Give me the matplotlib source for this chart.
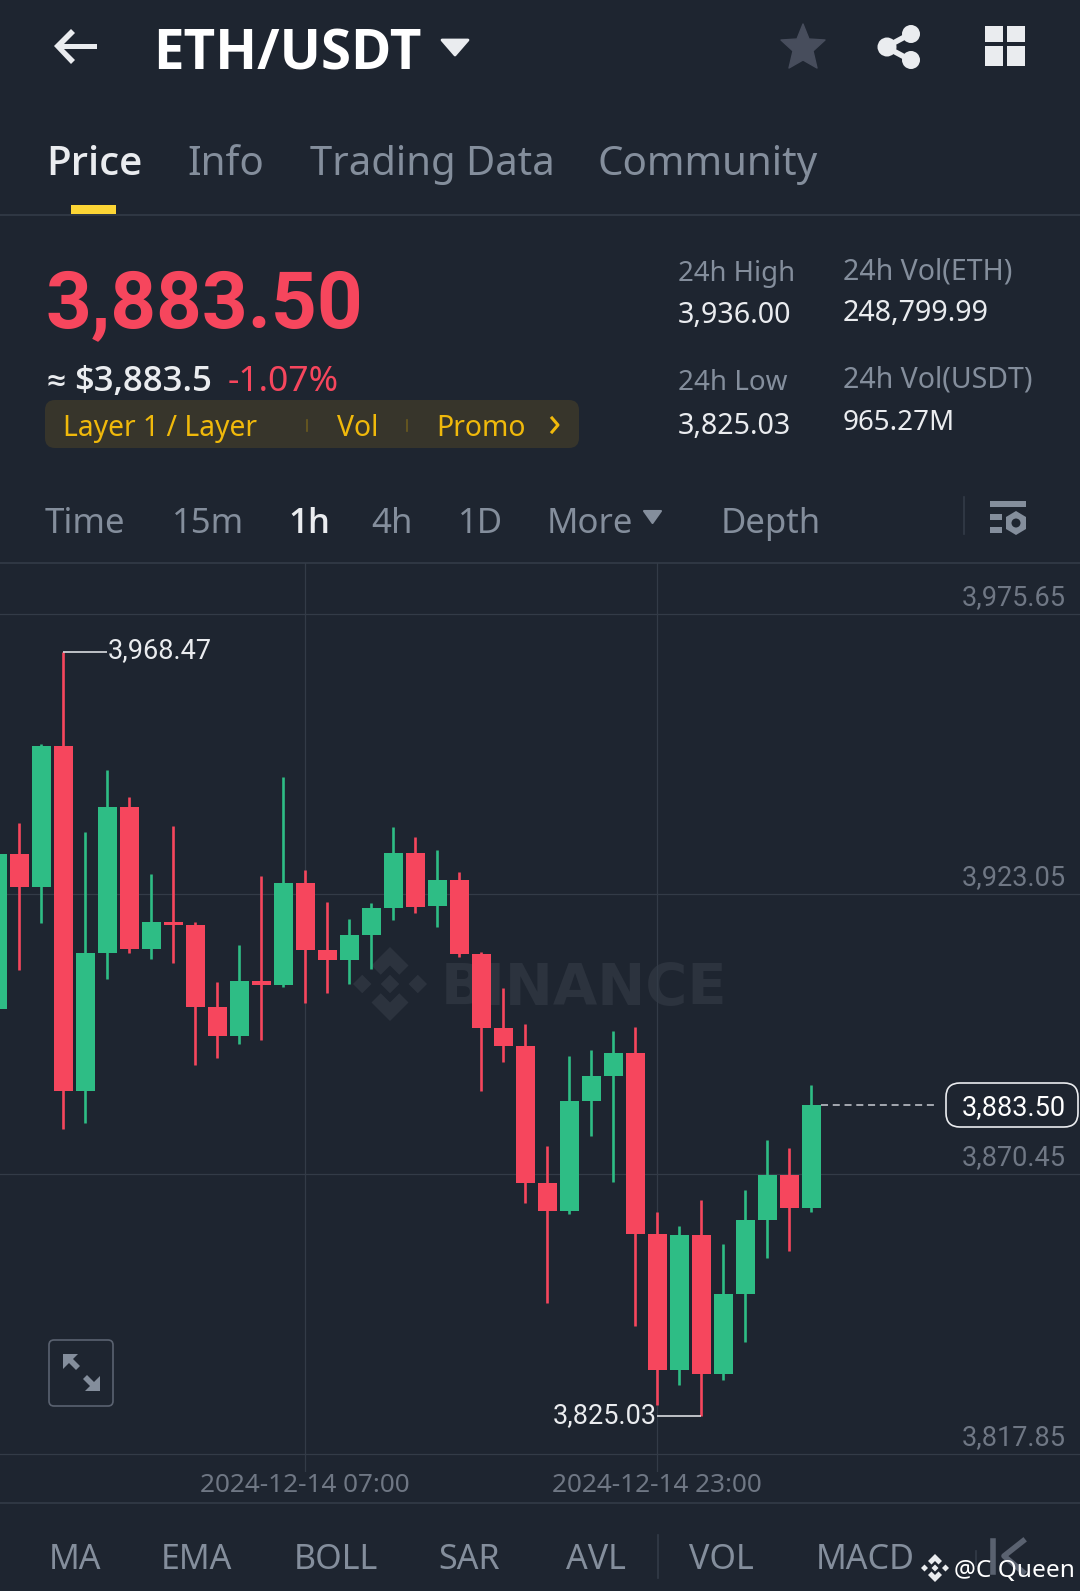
import matplotlib
matplotlib.use("Agg")
import matplotlib.pyplot as plt
import matplotlib.transforms as mtrans
from matplotlib.patches import FancyBboxPatch, Polygon, Circle, Rectangle

# candle values, one per hour
opens = [3901.45, 3930.56, 3924.42, 3950.91, 3886.10, 3911.91, 3939.45, 3912.72, 3917.85, 3917.28,
         3901.88, 3896.37, 3906.71, 3905.90, 3925.06, 3912.53, 3910.71, 3915.40, 3920.42, 3930.81,
         3920.76, 3925.66, 3911.70, 3897.84, 3894.46, 3868.83, 3863.50, 3884.07, 3888.90, 3893.12,
         3859.18, 3833.55, 3858.95, 3832.88, 3847.96, 3861.77, 3870.17, 3864.15]
closes = [3930.56, 3924.42, 3950.91, 3886.10, 3911.91, 3939.45, 3912.72, 3917.85, 3917.28, 3901.88,
          3896.37, 3906.71, 3905.90, 3925.06, 3912.53, 3910.71, 3915.40, 3920.42, 3930.81, 3920.66,
          3925.66, 3911.70, 3897.84, 3894.46, 3868.83, 3863.50, 3884.07, 3888.90, 3893.12, 3859.18,
          3833.55, 3858.95, 3832.88, 3847.96, 3861.77, 3870.17, 3864.15, 3883.50]
highs = [3930.56, 3936.33, 3951.23, 3968.47, 3934.70, 3946.34, 3941.33, 3926.81, 3935.88, 3917.85,
         3906.52, 3913.41, 3926.43, 3944.97, 3927.56, 3921.60, 3918.35, 3921.42, 3935.58, 3933.81,
         3931.32, 3927.15, 3912.21, 3905.45, 3898.63, 3875.67, 3892.67, 3893.80, 3897.35, 3898.10,
         3863.40, 3860.68, 3865.64, 3857.24, 3867.44, 3876.78, 3875.30, 3887.11]
lows = [3901.45, 3908.77, 3917.66, 3878.90, 3879.97, 3907.03, 3911.91, 3910.84, 3910.03, 3890.93,
        3892.24, 3894.87, 3895.62, 3905.52, 3902.52, 3904.40, 3906.14, 3908.90, 3918.17, 3919.42,
        3916.89, 3911.18, 3886.13, 3891.49, 3864.91, 3846.25, 3862.97, 3877.68, 3868.98, 3841.95,
        3827.01, 3830.87, 3825.03, 3831.84, 3838.89, 3854.72, 3855.91, 3863.40]

price_ticks = [3975.65, 3923.05, 3870.45, 3817.85]
price_labels = ["3,975.65", "3,923.05", "3,870.45", "3,817.85"]
time_ticks = [14, 30]
time_labels = ["2024-12-14 07:00", "2024-12-14 23:00"]

last_price = 3883.50
high_idx, high_price = 3, 3968.47
low_idx, low_price = 32, 3825.03

BG = "#1E2530"
LINE = "#333B47"
GREY = "#848E9C"
WHITE = "#EAECEF"
RED = "#F6465D"
GREEN = "#2EBD85"
YELLOW = "#F0B90B"
MARK = "#2C333E"
UI_FONT = ["Noto Sans", "DejaVu Sans"]
BOLD_FONT = ["Open Sans", "DejaVu Sans"]
NUM_FONT = ["Roboto", "DejaVu Sans"]

W, H = 1080, 1591
PX_PER_PRICE = 5.323

fig = plt.figure(figsize=(W / 100, H / 100), dpi=100, facecolor=BG)

# screen furniture lives on a full-size axes in pixel units
ui = fig.add_axes([0, 0, 1, 1], zorder=0)
ui.set_xlim(0, W)
ui.set_ylim(H, 0)
ui.axis("off")


def label(x, y, s, size, color=GREY, weight="normal", ha="left", font=UI_FONT):
    return ui.text(x, y, s, fontsize=size, color=color, fontweight=weight, ha=ha,
                   va="center_baseline", family=font)


def logo(axes, cx, cy, r, color, z=1):
    # small diamond, two side diamonds and the two chevrons
    u = r / 4.0
    def diamond(x, y, s):
        axes.add_patch(Polygon([(x, y - s), (x + s, y), (x, y + s), (x - s, y)], closed=True, fc=color, ec="none", zorder=z))
    diamond(cx, cy, u)
    diamond(cx - 3 * u, cy, u)
    diamond(cx + 3 * u, cy, u)
    for sign in (-1, 1):
        pts = [(cx, cy + sign * 4 * u), (cx + 2 * u, cy + sign * 2 * u), (cx + 1 * u, cy + sign * 1 * u),
               (cx, cy + sign * 2 * u), (cx - 1 * u, cy + sign * 1 * u), (cx - 2 * u, cy + sign * 2 * u)]
        axes.add_patch(Polygon(pts, closed=True, fc=color, ec="none", zorder=z))


# header
ui.add_patch(Polygon([(54, 46), (71, 29), (75, 33), (64, 44), (97, 44), (97, 49), (64, 49), (75, 60), (71, 64)],
                     closed=True, fc=WHITE, ec="none"))
label(153, 48, "ETH/USDT", 39.3, "#FFFFFF", "bold", font=BOLD_FONT)
ui.add_patch(Polygon([(442, 40), (468, 40), (455, 55)], closed=True, fc=WHITE, ec=WHITE, lw=2, joinstyle="round"))
star = [(803, 24), (809, 39), (825, 40), (813, 51), (817, 68), (803, 60), (789, 68), (793, 51), (781, 40), (797, 39)]
ui.add_patch(Polygon(star, closed=True, fc="#474D5C", ec="#474D5C", lw=1, joinstyle="round"))
ui.plot([912, 886, 912], [33, 47, 61], color=WHITE, lw=4)
for cx, cy, r in [(911, 34, 9), (887, 47, 9.5), (911, 60, 9)]:
    ui.add_patch(Circle((cx, cy), r, fc=WHITE, ec="none"))
for x0, y0, w, h in [(985, 26, 18, 16), (1007, 26, 18, 16), (985, 46, 18, 20), (1007, 46, 18, 20)]:
    ui.add_patch(Rectangle((x0, y0), w, h, fc=WHITE, ec="none"))

# tabs
label(46, 160, "Price", 29, WHITE, "semibold", font=BOLD_FONT)
label(187, 160, "Info", 29)
label(310, 160, "Trading Data", 28.8)
label(598, 160, "Community", 29)
ui.add_patch(Rectangle((71, 205), 45, 9, fc="#FCD535", ec="none"))
ui.plot([0, W], [215, 215], color=LINE, lw=1.2)

# price block
label(46, 298, "3,883.50", 57.6, RED, "bold", font=NUM_FONT)
label(46, 379, "\u2248", 24, WHITE, "semibold", font=BOLD_FONT)
label(74, 378, "$3,883.5", 25, WHITE, "semibold", font=BOLD_FONT)
label(228, 378, "-1.07%", 25.5, RED)
ui.add_patch(FancyBboxPatch((53, 408), 518, 32, boxstyle="round,pad=8,rounding_size=10", fc="#37352B", ec="none"))
label(63, 425, "Layer 1 / Layer", 20.4, YELLOW)
label(337, 425, "Vol", 20.4, YELLOW)
label(436, 425, "Promo", 20.4, YELLOW)
ui.plot([552, 558, 552], [418, 425, 432], color=YELLOW, lw=2.2)
for sx in (306.5, 407):
    ui.plot([sx, sx], [420, 431], color="#6B5B1E", lw=1.2)

label(678, 270, "24h High", 19.8)
label(678, 312, "3,936.00", 20.6, WHITE)
label(678, 380, "24h Low", 20)
label(678, 423, "3,825.03", 20.6, WHITE)
label(843, 269, "24h Vol(ETH)", 20.5)
label(843, 310, "248,799.99", 20.6, WHITE)
label(843, 377, "24h Vol(USDT)", 20.5)
label(843, 420, "965.27M", 20, WHITE)

# timeframe row
for x, s in [(45, "Time"), (172, "15m"), (371, "4h"), (458, "1D"), (547, "More"), (721, "Depth")]:
    label(x, 520, s, 25)
label(288, 520, "1h", 25, WHITE, "semibold", font=BOLD_FONT)
ui.add_patch(Polygon([(644, 511), (661, 511), (652.5, 523)], closed=True, fc=GREY, ec=GREY, lw=1.5, joinstyle="round"))
ui.plot([964, 964], [497, 534], color=LINE, lw=1.2)
ui.add_patch(Rectangle((990, 501), 36, 6, fc=GREY, ec="none"))
ui.add_patch(Rectangle((990, 514), 12, 6, fc=GREY, ec="none"))
ui.add_patch(Rectangle((990, 527), 12, 6, fc=GREY, ec="none"))
ui.add_patch(Polygon([(1016, 511), (1026, 517), (1026, 529), (1016, 535), (1006, 529), (1006, 517)], closed=True, fc=GREY, ec="none"))
ui.add_patch(Circle((1016, 523), 4.5, fc=BG, ec="none"))
ui.plot([0, W], [563, 563], color=LINE, lw=1.2)

# watermark sits under the candles
logo(ui, 390, 984, 37, MARK)
ui.text(441, 984, "BINANCE", fontsize=41.3, color=MARK, fontweight="bold", family=["DejaVu Sans"], va="center_baseline")

# expand button
ui.add_patch(FancyBboxPatch((53, 1344), 56, 58, boxstyle="round,pad=4,rounding_size=5", fc="none", ec="#5A6270", lw=1.2))
ui.add_patch(Polygon([(63, 1354), (78, 1354), (73, 1359), (80, 1366), (76, 1370), (69, 1363), (63, 1369)], closed=True, fc=GREY, ec="none"))
ui.add_patch(Polygon([(100, 1391), (85, 1391), (90, 1386), (83, 1379), (87, 1375), (94, 1382), (100, 1376)], closed=True, fc=GREY, ec="none"))

# last price pill, the number itself goes on the chart axes
ui.add_patch(FancyBboxPatch((954, 1091), 116, 28, boxstyle="round,pad=8,rounding_size=14", fc=BG, ec=WHITE, lw=1.2))

# time axis / bottom bar
ui.plot([0, W], [1503, 1503], color=LINE, lw=1.2)
for x, s in [(49, "MA"), (161, "EMA"), (294, "BOLL"), (438, "SAR"), (566, "AVL"), (689, "VOL"), (816, "MACD")]:
    label(x, 1556, s, 24.5)
ui.plot([657.5, 657.5], [1535, 1578], color=LINE, lw=1.2)
ui.plot([976, 976], [1551, 1566], color=LINE, lw=1.2)
ui.plot([993, 993], [1541, 1572], color="#5A6270", lw=4)
ui.plot([1023, 1004, 1023], [1541, 1556, 1572], color="#5A6270", lw=4)

# chart
top_px, bot_px, grid_top_px, grid_bot_px = 563, 1472, 614, 1454
ax = fig.add_axes([0, (H - bot_px) / H, 1, (bot_px - top_px) / H], zorder=1)
ax.patch.set_visible(False)
for sp in ax.spines.values():
    sp.set_visible(False)

for i in range(len(opens)):
    col = GREEN if closes[i] >= opens[i] else RED
    ax.vlines(i, lows[i], highs[i], color=col, lw=1.9, zorder=3)
    ax.bar(i, abs(closes[i] - opens[i]), bottom=min(opens[i], closes[i]), width=0.88, color=col, zorder=3)

ax.set_xlim(2.7 / 22, (W + 2.7) / 22)
ax.set_ylim(price_ticks[-1] - (bot_px - grid_bot_px) / PX_PER_PRICE,
            price_ticks[0] + (grid_top_px - top_px) / PX_PER_PRICE)
ax.set_axisbelow(True)
ax.grid(True, color=LINE, lw=0.9)

ax.yaxis.tick_right()
ax.set_yticks(price_ticks)
ax.set_yticklabels(price_labels, family=NUM_FONT, fontsize=19.5, color="#6F7784", ha="right", va="bottom")
ax.tick_params(axis="y", length=0, pad=-10)
for lbl in ax.get_yticklabels():
    lbl.set_transform(lbl.get_transform() + mtrans.ScaledTranslation(0, 3 / 100, fig.dpi_scale_trans))
ax.set_xticks(time_ticks)
ax.set_xticklabels(time_labels, family=UI_FONT, fontsize=18.8, color="#6F7784")
ax.tick_params(axis="x", length=0, pad=1)

# high / low call-outs
ax.hlines(high_price, high_idx, high_idx + 2, color=WHITE, lw=1.1, zorder=4)
ax.annotate(f"{high_price:,.2f}", xy=(high_idx + 2, high_price), xytext=(0.5, 3.5), textcoords="offset points",
            color=WHITE, fontsize=19.5, family=NUM_FONT, va="center_baseline", zorder=4)
ax.hlines(low_price, low_idx - 2, low_idx, color=WHITE, lw=1.1, zorder=4)
ax.annotate(f"{low_price:,.2f}", xy=(low_idx - 2, low_price), xytext=(0, 2.5), textcoords="offset points",
            color=WHITE, fontsize=19.5, family=NUM_FONT, va="center_baseline", ha="right", zorder=4)

# last price line and number
ax.plot([len(opens) - 1 + 0.44, 42.67], [last_price, last_price], color="#C8CCD2", lw=1.1, dashes=(4.6, 3.1), zorder=2)
ax.annotate(f"{last_price:,.2f}", xy=(46.2, last_price), color="#FFFFFF", fontsize=19.5, family=NUM_FONT,
            ha="center", va="center_baseline", zorder=5)

# screenshot credit on top of everything
top = fig.add_axes([0, 0, 1, 1], zorder=3)
top.set_xlim(0, W)
top.set_ylim(H, 0)
top.axis("off")
logo(top, 935, 1568, 14, WHITE)
top.text(954, 1568, "@C Queen", color="#FFFFFF", fontsize=17.6, family=UI_FONT, va="center_baseline")

fig.savefig("out.png", dpi=100, facecolor=BG)
